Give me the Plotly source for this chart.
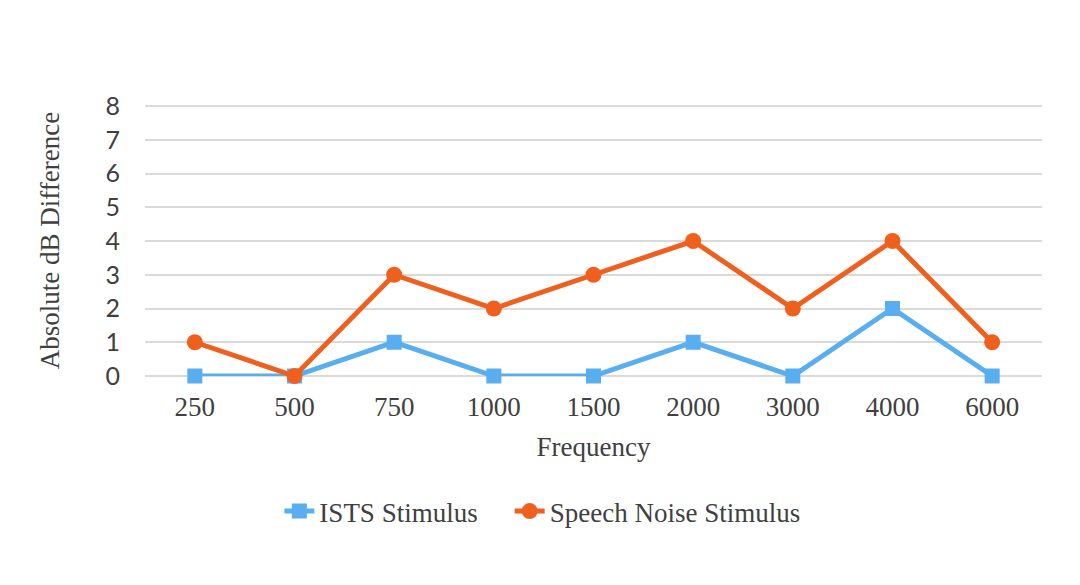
import plotly.graph_objects as go

categories = ["250", "500", "750", "1000", "1500", "2000", "3000", "4000", "6000"]
ists = [0, 0, 1, 0, 0, 1, 0, 2, 0]
speech = [1, 0, 3, 2, 3, 4, 2, 4, 1]
y_ticks = [0, 1, 2, 3, 4, 5, 6, 7, 8]
series_names = ["ISTS Stimulus", "Speech Noise Stimulus"]

serif = "Liberation Serif, Times New Roman, serif"
text_col = "#404040"

fig = go.Figure()
fig.add_trace(go.Scatter(
    x=categories, y=ists, name=series_names[0] + "\u00a0" * 4, mode="lines+markers",
    line=dict(color="#59AEF0", width=5),
    marker=dict(symbol="square", size=15, color="#59AEF0"),
    cliponaxis=False,
))
fig.add_trace(go.Scatter(
    x=categories, y=speech, name=series_names[1], mode="lines+markers",
    line=dict(color="#EF601F", width=5),
    marker=dict(symbol="circle", size=16, color="#EF601F"),
    cliponaxis=False,
))

fig.update_layout(
    width=1080, height=585,
    margin=dict(l=145, r=38, t=105, b=209),
    plot_bgcolor="white", paper_bgcolor="white",
    showlegend=True,
    legend=dict(orientation="h", x=0.443, xanchor="center", y=-0.50, yanchor="middle",
                font=dict(family=serif, size=27, color=text_col),
                traceorder="normal"),
    xaxis=dict(
        type="category", range=[-0.5, 8.5], showgrid=False, showline=False, ticks="",
        tickfont=dict(family=serif, size=27, color=text_col),
        ticklabelstandoff=12,
        title=dict(text="Frequency", font=dict(family=serif, size=27, color=text_col), standoff=16),
    ),
    yaxis=dict(
        range=[0, 8.03], tickvals=y_ticks, showgrid=True, gridcolor="#DADADA", gridwidth=1.5,
        zeroline=True, zerolinecolor="#DADADA", zerolinewidth=1.5, showline=False, ticks="",
        tickfont=dict(family="Lato, sans-serif", size=25, color=text_col),
        ticklabelstandoff=24,
        title=dict(text="Absolute dB Difference", font=dict(family=serif, size=27, color=text_col), standoff=38),
    ),
)

fig.write_html("out.html")
